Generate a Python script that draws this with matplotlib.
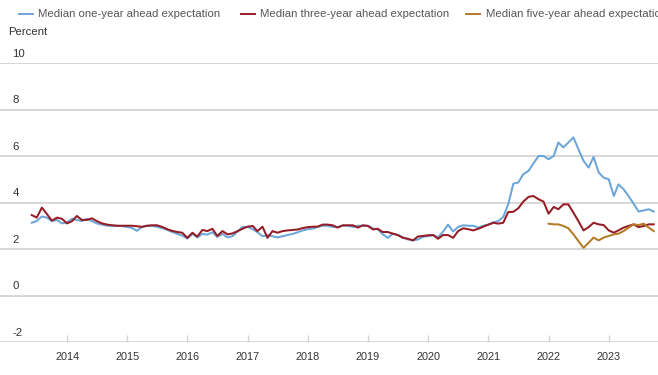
import matplotlib
matplotlib.use("Agg")
import matplotlib.pyplot as plt
from matplotlib.lines import Line2D
import pandas as pd
import datetime as dt

plt.rcParams['font.family'] = ['Liberation Sans', 'DejaVu Sans']

series_names = ["Median one-year ahead expectation",
                "Median three-year ahead expectation",
                "Median five-year ahead expectation"]

one_year = [
    3.13, 3.2, 3.4, 3.35, 3.2, 3.25, 3.1,
    3.15, 3.3, 3.25, 3.2, 3.3, 3.2, 3.1, 3.05, 3.0, 3.0, 3.0, 2.98,
    2.95, 2.9, 2.78, 2.95, 3.0, 3.0, 2.95, 2.9, 2.82, 2.73, 2.65, 2.58,
    2.45, 2.65, 2.5, 2.65, 2.62, 2.72, 2.52, 2.65, 2.5, 2.55, 2.75, 2.95,
    2.95, 2.85, 2.72, 2.55, 2.6, 2.55, 2.5, 2.55, 2.6, 2.65, 2.72, 2.8,
    2.85, 2.88, 2.95, 3.0, 3.0, 2.95, 2.95, 3.0, 3.0, 2.95, 3.0, 3.0,
    3.0, 2.88, 2.85, 2.63, 2.48, 2.66, 2.6, 2.5, 2.41, 2.37, 2.41, 2.53,
    2.55, 2.6, 2.5, 2.75, 3.05, 2.75, 2.95, 3.02, 3.0, 3.0, 2.92, 3.0,
    3.05, 3.15, 3.2, 3.38, 3.92, 4.81, 4.86, 5.22, 5.36, 5.68, 6.0, 6.0,
    5.86, 6.0, 6.58, 6.37, 6.58, 6.8, 6.29, 5.79, 5.5, 5.96, 5.29, 5.07,
    5.0, 4.28, 4.78, 4.57, 4.28, 3.95, 3.61, 3.66, 3.71, 3.61,
]

three_year = [
    3.46, 3.35, 3.78, 3.5, 3.22, 3.35, 3.3,
    3.1, 3.2, 3.42, 3.25, 3.25, 3.32, 3.2, 3.1, 3.05, 3.02, 3.0, 3.0,
    3.0, 3.0, 2.98, 2.95, 3.0, 3.02, 3.02, 2.95, 2.85, 2.78, 2.73, 2.7,
    2.48, 2.7, 2.53, 2.82, 2.77, 2.87, 2.56, 2.77, 2.63, 2.67, 2.77, 2.87,
    2.96, 2.99, 2.77, 2.96, 2.48, 2.77, 2.7, 2.77, 2.8, 2.82, 2.84, 2.9,
    2.94, 2.96, 2.96, 3.05, 3.05, 3.02, 2.92, 3.02, 3.02, 3.02, 2.92, 3.02,
    2.99, 2.84, 2.87, 2.73, 2.73, 2.66, 2.6, 2.48, 2.44, 2.37, 2.54, 2.56,
    2.59, 2.6, 2.44, 2.6, 2.6, 2.48, 2.77, 2.89, 2.85, 2.8, 2.87, 2.96,
    3.05, 3.13, 3.09, 3.13, 3.59, 3.6, 3.75, 4.04, 4.24, 4.28, 4.14, 4.04,
    3.52, 3.81, 3.71, 3.92, 3.92, 3.56, 3.2, 2.8, 2.94, 3.13, 3.06, 3.03,
    2.8, 2.7, 2.8, 2.92, 2.99, 3.06, 2.94, 2.99, 3.06, 3.06,
]

five_year = [
    3.09, 3.06, 3.06, 2.99, 2.89, 2.63, 2.34, 2.05, 2.27, 2.49, 2.37, 2.49,
    2.56, 2.63, 2.66, 2.77, 2.92, 3.06, 3.03, 3.09, 2.92, 2.77,
]

year_ticks = list(range(2014, 2024))
y_ticks = [-2, 0, 2, 4, 6, 8, 10]

colors = ["#6ca6d8", "#951c24", "#b47a26"]

dates_main = pd.date_range("2013-06-01", periods=len(one_year), freq="MS")
dates_five = pd.date_range("2022-01-01", periods=len(five_year), freq="MS")

W, H = 658, 375
fig = plt.figure(figsize=(W / 100, H / 100), dpi=100)
ax = fig.add_axes([0, (H - 342) / H, 1, 279 / H])
ax.set_ylim(-2, 10)
ax.set_xlim(dt.datetime(2012, 11, 20), dt.datetime(2023, 10, 27))

for s in ax.spines.values():
    s.set_visible(False)

for v in y_ticks:
    ax.axhline(v, color="#d4d4d4", lw=1.3, zorder=1)
    ax.text(0.019, v + 0.18, str(v), transform=ax.get_yaxis_transform(),
            ha="left", va="bottom", fontsize=8.2, color="#333333")
ax.set_yticks([])

ax.plot(dates_main, one_year, color=colors[0], lw=1.45, zorder=3)
ax.plot(dates_main, three_year, color=colors[1], lw=1.45, zorder=4)
ax.plot(dates_five, five_year, color=colors[2], lw=1.45, zorder=5)

ax.set_xticks([dt.datetime(y, 1, 1) for y in year_ticks])
ax.set_xticklabels([str(y) for y in year_ticks])
ax.tick_params(axis="x", direction="in", length=5, width=1, color="#d4d4d4",
               labelsize=7.8, labelcolor="#333333", pad=7)

fig.text(8 / W, 1 - 32 / H, "Percent", ha="left", va="center",
         fontsize=8.2, color="#333333")

legend_items = [(19, 38), (241, 260), (466, 486)]
for (lx, tx), name, c in zip(legend_items, series_names, colors):
    fig.add_artist(Line2D([lx / W, (lx + 14) / W], [1 - 14 / H, 1 - 14 / H],
                          color=c, lw=1.4, transform=fig.transFigure))
    fig.text(tx / W, 1 - 14 / H, name, ha="left", va="center",
             fontsize=8.2, color="#555555")

fig.savefig("out.png", dpi=100)
